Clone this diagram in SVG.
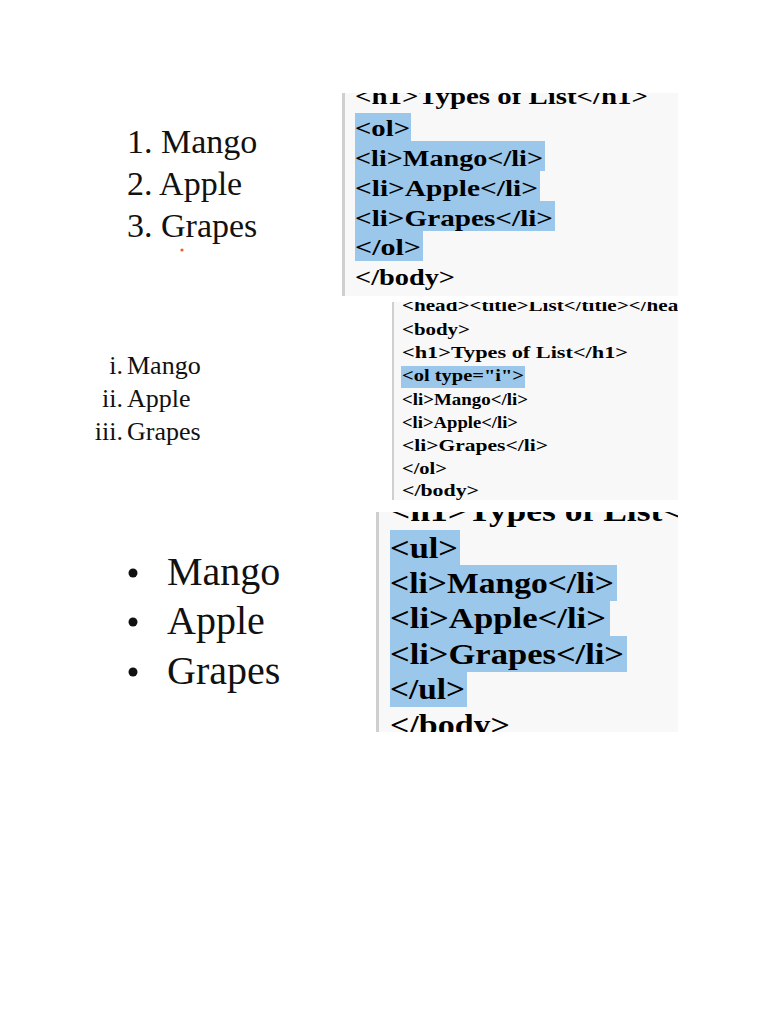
<svg xmlns="http://www.w3.org/2000/svg" width="768" height="1024" viewBox="0 0 768 1024">
<style>
.code{font-family:"Liberation Serif","DejaVu Serif",serif;font-weight:bold;fill:#000}
.list{font-family:"Liberation Serif","Times New Roman",serif;fill:#111}
.hl{fill:#9ac7ea}
.panel{fill:#f8f8f8}
.edge{fill:#cfcfcf}
</style>
<defs>
<clipPath id="c1"><rect x="342" y="93" width="336" height="203"/></clipPath>
<clipPath id="c2"><rect x="392" y="302" width="286" height="198"/></clipPath>
<clipPath id="c3"><rect x="376" y="512" width="302" height="220"/></clipPath>
</defs>
<rect width="768" height="1024" fill="#fff"/>

<g id="ordered-numeric">
<text class="list" x="127" y="153" font-size="34">1. Mango</text>
<text class="list" x="127" y="195" font-size="34">2. Apple</text>
<text class="list" x="127" y="237" font-size="34">3. Grapes</text>
<circle cx="182" cy="250" r="1.6" fill="#e8602c"/>
</g>
<g id="code-ol" clip-path="url(#c1)">
<rect class="panel" x="342" y="93" width="336" height="203"/>
<rect class="edge" x="342" y="93" width="3" height="203"/>
<rect class="hl" x="355" y="113" width="56" height="28"/>
<rect class="hl" x="355" y="141" width="190" height="30"/>
<rect class="hl" x="355" y="171" width="185" height="30"/>
<rect class="hl" x="355" y="201" width="200" height="30"/>
<rect class="hl" x="355" y="231" width="68" height="30"/>
<g class="code" font-size="24" lengthAdjust="spacingAndGlyphs">
<text x="355" y="104" textLength="293" lengthAdjust="spacingAndGlyphs">&lt;h1&gt;Types of List&lt;/h1&gt;</text>
<text x="355" y="136" textLength="55" lengthAdjust="spacingAndGlyphs">&lt;ol&gt;</text>
<text x="355" y="166" textLength="188" lengthAdjust="spacingAndGlyphs">&lt;li&gt;Mango&lt;/li&gt;</text>
<text x="355" y="196" textLength="183" lengthAdjust="spacingAndGlyphs">&lt;li&gt;Apple&lt;/li&gt;</text>
<text x="355" y="226" textLength="198" lengthAdjust="spacingAndGlyphs">&lt;li&gt;Grapes&lt;/li&gt;</text>
<text x="355" y="255" textLength="66" lengthAdjust="spacingAndGlyphs">&lt;/ol&gt;</text>
<text x="355" y="285" textLength="100" lengthAdjust="spacingAndGlyphs">&lt;/body&gt;</text>
</g>
</g>

<g id="ordered-roman">
<g class="list" font-size="26" text-anchor="end">
<text x="123" y="374">i.</text>
<text x="123" y="407">ii.</text>
<text x="123" y="440">iii.</text>
</g>
<g class="list" font-size="26">
<text x="127" y="374">Mango</text>
<text x="127" y="407">Apple</text>
<text x="127" y="440">Grapes</text>
</g>
</g>
<g id="code-ol-type" clip-path="url(#c2)">
<rect class="panel" x="392" y="302" width="286" height="198"/>
<rect class="edge" x="392" y="302" width="2" height="198"/>
<rect class="hl" x="401" y="366" width="124" height="22"/>
<g class="code" font-size="17">
<text x="402" y="311" textLength="300" lengthAdjust="spacingAndGlyphs">&lt;head&gt;&lt;title&gt;List&lt;/title&gt;&lt;/head&gt;</text>
<text x="402" y="335" textLength="68" lengthAdjust="spacingAndGlyphs">&lt;body&gt;</text>
<text x="402" y="358" textLength="226" lengthAdjust="spacingAndGlyphs">&lt;h1&gt;Types of List&lt;/h1&gt;</text>
<text x="402" y="381" textLength="122" lengthAdjust="spacingAndGlyphs">&lt;ol type="i"&gt;</text>
<text x="402" y="405" textLength="126" lengthAdjust="spacingAndGlyphs">&lt;li&gt;Mango&lt;/li&gt;</text>
<text x="402" y="428" textLength="116" lengthAdjust="spacingAndGlyphs">&lt;li&gt;Apple&lt;/li&gt;</text>
<text x="402" y="451" textLength="146" lengthAdjust="spacingAndGlyphs">&lt;li&gt;Grapes&lt;/li&gt;</text>
<text x="402" y="474" textLength="45" lengthAdjust="spacingAndGlyphs">&lt;/ol&gt;</text>
<text x="402" y="496" textLength="77" lengthAdjust="spacingAndGlyphs">&lt;/body&gt;</text>
</g>
</g>

<g id="unordered">
<circle cx="133" cy="573" r="4.5" fill="#111"/>
<circle cx="133" cy="622" r="4.5" fill="#111"/>
<circle cx="133" cy="672" r="4.5" fill="#111"/>
<g class="list" font-size="40">
<text x="167" y="585">Mango</text>
<text x="167" y="634">Apple</text>
<text x="167" y="684">Grapes</text>
</g>
</g>
<g id="code-ul" clip-path="url(#c3)">
<rect class="panel" x="376" y="512" width="302" height="220"/>
<rect class="edge" x="376" y="512" width="3" height="220"/>
<rect class="hl" x="390" y="530" width="70" height="35"/>
<rect class="hl" x="390" y="565" width="227" height="36"/>
<rect class="hl" x="390" y="601" width="220" height="35"/>
<rect class="hl" x="390" y="636" width="237" height="36"/>
<rect class="hl" x="390" y="672" width="77" height="35"/>
<g class="code" font-size="29">
<text x="390" y="521" textLength="360" lengthAdjust="spacingAndGlyphs">&lt;h1&gt;Types of List&lt;/h1&gt;</text>
<text x="390" y="558" textLength="68" lengthAdjust="spacingAndGlyphs">&lt;ul&gt;</text>
<text x="390" y="593" textLength="224" lengthAdjust="spacingAndGlyphs">&lt;li&gt;Mango&lt;/li&gt;</text>
<text x="390" y="628" textLength="216" lengthAdjust="spacingAndGlyphs">&lt;li&gt;Apple&lt;/li&gt;</text>
<text x="390" y="664" textLength="234" lengthAdjust="spacingAndGlyphs">&lt;li&gt;Grapes&lt;/li&gt;</text>
<text x="390" y="699" textLength="75" lengthAdjust="spacingAndGlyphs">&lt;/ul&gt;</text>
<text x="390" y="735" textLength="120" lengthAdjust="spacingAndGlyphs">&lt;/body&gt;</text>
</g>
</g>
</svg>
